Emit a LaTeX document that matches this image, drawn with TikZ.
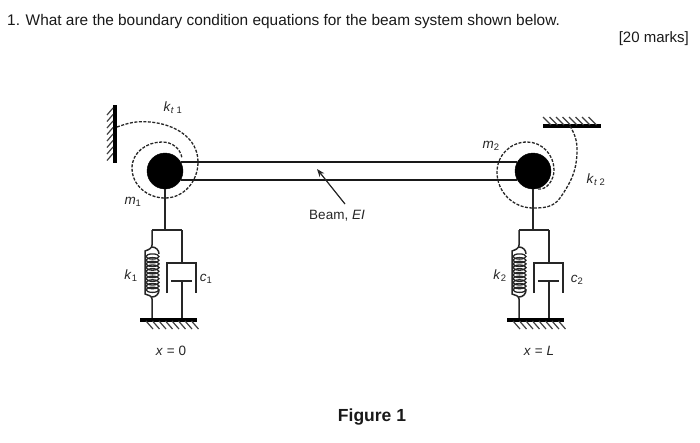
\documentclass[tikz,border=0pt]{standalone}
\usepackage{fontspec}
\setmainfont{Liberation Sans}
\usetikzlibrary{arrows.meta}

\tikzset{
	mass/.style={circle, fill=black, draw=black, inner sep=0pt, minimum size=36pt},
	bar/.style={line width=4pt},
	hatch/.style={line width=1.2pt, draw=black!75},
	rod/.style={line width=1.5pt, draw=black!85},
	beam/.style={line width=2.6pt, draw=black!90},
	torsion/.style={line width=1.3pt, dash pattern=on 3pt off 1.5pt, draw=black!85},
	lbl/.style={inner sep=0pt, font=\fontsize{13.5}{15}\selectfont, text=black!85},
	txt/.style={inner sep=0pt, font=\fontsize{15.4}{18}\selectfont, text=black!90}
}

\begin{document}
\begin{tikzpicture}[x=1pt, y=-1pt]
	\useasboundingbox (0,0) rectangle (700,442);

	\node (question) [txt, anchor=west] at (7,21.5) {1. What are the boundary condition equations for the beam system shown below.};
	\node (marks) [txt, font=\fontsize{15}{18}\selectfont, anchor=east] at (689,39) {[20 marks]};
	\node (figure) [txt, font=\fontsize{17.5}{20}\selectfont\bfseries] at (372,417) {Figure 1};

	\node (mass1) [mass] at (165,171) {};
	\node (mass2) [mass] at (533,171) {};

	% beam
	\draw [beam] (mass1.30) -- (mass2.150);
	\draw [beam] (mass1.-30) -- (mass2.-150);
	\node (beamlabel) [lbl] at (337,216) {Beam, \textit{EI}};
	\coordinate (beamtip) at (317,169);
	\draw [rod, line width=1.2pt, -{Stealth[length=8pt,width=6pt]}] (345,204) -- (beamtip);

	% walls
	\coordinate (wall1) at (117,127);
	\coordinate (wall2) at (570,126);
	\draw [bar] (115,105) -- (115,163);
	\foreach \y in {108,114.5,...,154}
		\draw [hatch] (113,\y) -- (107,\y+7);
	\draw [bar] (543,126) -- (601,126);
	\foreach \x in {551,557.5,...,597}
		\draw [hatch] (\x,125) -- (\x-8,117);

	% torsion springs
	\draw [torsion] (wall1) to[out=20,in=175] (150,122) to[out=-5,in=90] (198,162)
		to[out=-90,in=0] (165,198) to[out=180,in=-90] (132,168)
		to[out=90,in=180] (162,142) to[out=0,in=100] (182,158);
	\draw [torsion] (wall2) to[out=-60,in=90] (577,150) to[out=-90,in=55] (560,198)
		to[out=-125,in=0] (533,208) to[out=180,in=-90] (497,172)
		to[out=90,in=180] (527,142) to[out=0,in=90] (554,170)
		to[out=-90,in=-10] (537,189);

	% supports
	\foreach \sx/\n in {0/1, 367/2} {
		\begin{scope}[xshift=\sx pt]
			\coordinate (top\n) at (165,230);
			\coordinate (left\n) at (152,230);
			\coordinate (right\n) at (182,230);
			\draw [rod] (mass\n.south) |- (top\n);
			\draw [rod] (left\n) -- (right\n);

			% spring
			\draw [rod] (left\n) -- (152,245) to[out=-90,in=20] (145,251) -- (145,294)
				to[out=-20,in=90] (152,299) -- (152,319);
			\draw [rod] (152,247) to[out=0,in=90] (159,254);
			\draw [rod] (152,297) to[out=0,in=-90] (159,290);
			\foreach \y in {256.5,260.2,...,291}
				\draw [rod, line width=1.3pt] (152.5,\y) ellipse [x radius=6.5pt, y radius=2.6pt];

			% dashpot
			\draw [rod] (right\n) -- (182,263);
			\draw [rod] (167,293) -- (167,263) -- (196,263) -- (196,293);
			\draw [rod, line width=1.8pt] (171,281) -- (192,281);
			\draw [rod] (182,281) -- (182,319);

			% ground
			\draw [bar] (140,319.5) -- (197,319.5);
			\foreach \x in {146,152.5,...,192}
				\draw [hatch] (\x,321) -- (\x+7,329);
		\end{scope}
	}

	\node (kt1) [lbl] at (173,108) {\textit{k}\textsubscript{\textit{t} 1}};
	\node (m1) [lbl] at (133,202) {\textit{m}\textsubscript{1}};
	\node (k1) [lbl] at (131,276) {\textit{k}\textsubscript{1}};
	\node (c1) [lbl] at (206,279) {\textit{c}\textsubscript{1}};
	\node (x0) [lbl] at (171,351) {\textit{x} = 0};
	\node (m2) [lbl] at (491,146) {\textit{m}\textsubscript{2}};
	\node (kt2) [lbl] at (596,180) {\textit{k}\textsubscript{\textit{t} 2}};
	\node (k2) [lbl] at (500,276) {\textit{k}\textsubscript{2}};
	\node (c2) [lbl] at (577,280) {\textit{c}\textsubscript{2}};
	\node (xl) [lbl] at (539,351) {\textit{x} = \textit{L}};
\end{tikzpicture}
\end{document}
